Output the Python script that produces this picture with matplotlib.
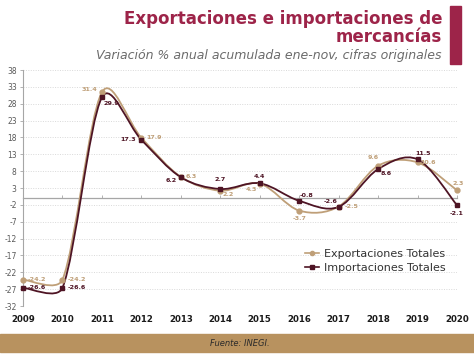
import numpy as np
import matplotlib
matplotlib.use("Agg")
import matplotlib.pyplot as plt
from matplotlib.path import Path
from matplotlib.patches import PathPatch, Rectangle
from matplotlib.lines import Line2D

plt.rcParams["axes.unicode_minus"] = False

years = [2009, 2010, 2011, 2012, 2013, 2014, 2015, 2016, 2017, 2018, 2019, 2020]
exportaciones = [-24.2, -24.2, 31.4, 17.9, 6.3, 2.2, 4.3, -3.7, -2.5, 9.6, 10.6, 2.3]
importaciones = [-26.6, -26.6, 29.9, 17.3, 6.2, 2.7, 4.4, -0.8, -2.6, 8.6, 11.5, -2.1]
y_ticks = list(range(38, -33, -5))

# label offsets (pixels) relative to each point
exp_off = [(5, 0, "left"), (5, 0, "left"), (-5, 3, "right"), (5, 0, "left"), (5, 0, "left"),
           (8, -4, "center"), (-8, -6, "center"), (0, -8, "center"), (6, 0, "left"),
           (-5, 8, "center"), (3, 0, "left"), (1, 7, "center")]
imp_off = [(5, 0, "left"), (5, 0, "left"), (9, -6, "center"), (-5, 0, "right"), (-10, -3, "center"),
           (0, 10, "center"), (0, 7, "center"), (7, 5, "center"), (-8, 5, "center"),
           (8, -4, "center"), (6, 6, "center"), (0, -8, "center")]

C_EXP = "#bf9f78"
C_IMP = "#4e1424"
C_TITLE = "#9d2449"
C_BAND = "#b8925f"


def smooth_path(ax, x, y, cap=0.35):
    # cubic bezier through the points, handles limited like spreadsheet smoothing
    p = ax.transData.transform(np.column_stack([x, y]))
    ext = np.vstack([p[0], p, p[-1]])
    verts = [p[0]]
    codes = [Path.MOVETO]
    for i in range(1, len(ext) - 2):
        a, b = ext[i], ext[i + 1]
        seg = np.hypot(*(b - a))
        h1 = (ext[i + 1] - ext[i - 1]) / 6
        h2 = (ext[i + 2] - ext[i]) / 6
        for h in (h1, h2):
            n = np.hypot(*h)
            if n > cap * seg:
                h *= cap * seg / n
        verts += [a + h1, b - h2, b]
        codes += [Path.CURVE4] * 3
    verts = ax.transData.inverted().transform(np.array(verts))
    return Path(verts, codes)


fig = plt.figure(figsize=(4.74, 3.57), dpi=100)
ax = fig.add_axes([23 / 474, 1 - 306 / 357, (457 - 23) / 474, (306 - 70) / 357])
ax.set_xlim(2009, 2020)
ax.set_ylim(-32, 38)

ax.set_yticks(y_ticks)
ax.yaxis.grid(True, linestyle=(0, (1, 1.5)), color="#d9d9d9", linewidth=0.7)
ax.set_axisbelow(True)

ax.spines["top"].set_visible(False)
ax.spines["right"].set_visible(False)
ax.spines["bottom"].set_position(("data", 0))
ax.spines["bottom"].set_color("#a6a6a6")
ax.spines["bottom"].set_linewidth(0.9)
ax.spines["left"].set_color("#a6a6a6")
ax.spines["left"].set_linewidth(0.8)
ax.tick_params(axis="y", labelsize=5.5, colors="#595959", length=2.5, width=0.6, pad=2, color="#a6a6a6")
ax.set_xticks(years)
ax.set_xticklabels([str(y) for y in years], fontsize=6.2, fontweight="bold", color="#1a1a1a")
ax.tick_params(axis="x", direction="in", length=2.5, width=0.6, color="#a6a6a6", pad=84)

ax.add_patch(PathPatch(smooth_path(ax, years, exportaciones), fill=False, edgecolor=C_EXP,
                       linewidth=1.3, zorder=3))
ax.add_patch(PathPatch(smooth_path(ax, years, importaciones), fill=False, edgecolor=C_IMP,
                       linewidth=1.3, zorder=4))
ax.plot(years, exportaciones, linestyle="none", marker="o", markersize=3.5, color=C_EXP, zorder=5, clip_on=False)
ax.plot(years, importaciones, linestyle="none", marker="s", markersize=3.3, color=C_IMP, zorder=6, clip_on=False)

for x, v, (dx, dy, ha) in zip(years, exportaciones, exp_off):
    ax.annotate(f"{v:.1f}", (x, v), xytext=(dx, dy), textcoords="offset pixels", ha=ha, va="center",
                fontsize=4.6, color=C_EXP, fontweight="bold", zorder=7)
for x, v, (dx, dy, ha) in zip(years, importaciones, imp_off):
    ax.annotate(f"{v:.1f}", (x, v), xytext=(dx, dy), textcoords="offset pixels", ha=ha, va="center",
                fontsize=4.6, color=C_IMP, fontweight="bold", zorder=7)

handles = [Line2D([], [], color=C_EXP, marker="o", markersize=3, linewidth=1.2),
           Line2D([], [], color=C_IMP, marker="s", markersize=3, linewidth=1.2)]
ax.legend(handles, ["Exportaciones Totales", "Importaciones Totales"], loc="center left",
          bbox_to_anchor=(295 / 474, 1 - 261 / 357), bbox_transform=fig.transFigure,
          frameon=False, fontsize=8, handlelength=1.3, handletextpad=0.4, labelspacing=0.35,
          labelcolor="#333333")

# header
fig.text(442 / 474, 1 - 19 / 357, "Exportaciones e importaciones de", ha="right", va="center",
         fontsize=12, fontweight="bold", color=C_TITLE)
fig.text(442 / 474, 1 - 37 / 357, "mercancías", ha="right", va="center",
         fontsize=12, fontweight="bold", color=C_TITLE)
fig.text(442 / 474, 1 - 56 / 357, "Variación % anual acumulada ene-nov, cifras originales", ha="right",
         va="center", fontsize=9, style="italic", color="#6b6b6b")
fig.patches.append(Rectangle((450 / 474, 1 - 64 / 357), 11 / 474, 58 / 357, transform=fig.transFigure,
                             color=C_TITLE, zorder=0))

# footer band
fig.patches.append(Rectangle((0, 1 - 352 / 357), 1, 18 / 357, transform=fig.transFigure,
                             color=C_BAND, zorder=0))
fig.text(240 / 474, 1 - 343 / 357, "Fuente: INEGI.", ha="center", va="center", fontsize=6,
         style="italic", color="#2b2b2b")

fig.savefig("out.png", dpi=100)
